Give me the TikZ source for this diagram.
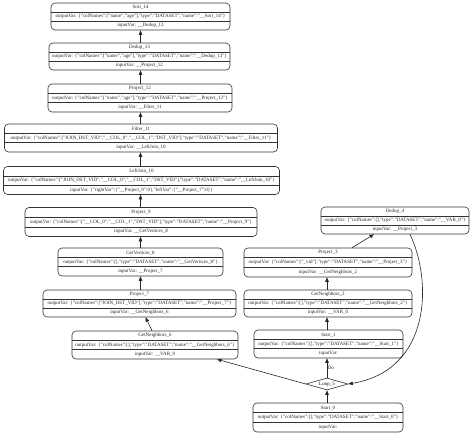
\documentclass[tikz,border=0pt]{standalone}
\usepackage{fontspec}
\setmainfont{Liberation Serif}
\usetikzlibrary{shapes.geometric,arrows.meta}
\tikzset{
  recshape/.style={draw=black!80, line width=0.6pt, rounded corners=4pt, inner sep=0pt},
  recline/.style={draw=black!80, line width=0.6pt},
  rectext/.style={inner sep=0pt, font=\fontsize{5}{6}\selectfont, text=black!85},
  edge/.style={draw=black!85, line width=0.6pt, -{Triangle[length=4.5pt,width=3.5pt]}},
  loopshape/.style={diamond, draw=black!80, line width=0.6pt, minimum width=42pt, minimum height=12pt, inner sep=0pt, aspect=3.5, font=\fontsize{5}{6}\selectfont}
}
\newcommand\recbox[8]{%
  \node[recshape, minimum width=#4pt, minimum height=#5pt] (#1) at (#2,#3) {};
  \draw[recline] ([yshift=#5pt/6]#1.west) -- ([yshift=#5pt/6]#1.east);
  \draw[recline] ([yshift=-#5pt/6]#1.west) -- ([yshift=-#5pt/6]#1.east);
  \node[rectext] (#1-t) at ([yshift=#5pt/3]#1.center) {#6};
  \node[rectext] (#1-o) at (#1.center) {#7};
  \node[rectext] (#1-i) at ([yshift=-#5pt/3]#1.center) {#8};
}
\begin{document}
\begin{tikzpicture}[x=1pt,y=-1pt]
\useasboundingbox (0,0) rectangle (474,434);
\recbox{Sort14}{140.5}{16.5}{179}{27}{Sort\_14}{outputVar: \{"colNames":["name","age"],"type":"DATASET","name":"\_\_Sort\_14"\}}{inputVar: \_\_Dedup\_13}
\recbox{Dedup13}{139.5}{56.5}{181}{27}{Dedup\_13}{outputVar: \{"colNames":["name","age"],"type":"DATASET","name":"\_\_Dedup\_13"\}}{inputVar: \_\_Project\_12}
\recbox{Project12}{140}{98}{184}{28}{Project\_12}{outputVar: \{"colNames":["name","age"],"type":"DATASET","name":"\_\_Project\_12"\}}{inputVar: \_\_Filter\_11}
\recbox{Filter11}{141}{138}{273}{28}{Filter\_11}{outputVar: \{"colNames":["JOIN\_DST\_VID","\_\_COL\_0","\_\_COL\_1","DST\_VID"],"type":"DATASET","name":"\_\_Filter\_11"\}}{inputVar: \_\_LeftJoin\_10}
\recbox{LeftJoin10}{141.5}{180.5}{276}{28}{LeftJoin\_10}{outputVar: \{"colNames":["JOIN\_DST\_VID","\_\_COL\_0","\_\_COL\_1","DST\_VID"],"type":"DATASET","name":"\_\_LeftJoin\_10"\}}{inputVar: \{"rightVar":\{"\_\_Project\_9":0\},"leftVar":\{"\_\_Project\_7":0\}\}}
\recbox{Project9}{141}{222}{232}{29}{Project\_9}{outputVar: \{"colNames":["\_\_COL\_0","\_\_COL\_1","DST\_VID"],"type":"DATASET","name":"\_\_Project\_9"\}}{inputVar: \_\_GetVertices\_8}
\recbox{GetVertices8}{140.5}{262}{165}{28}{GetVertices\_8}{outputVar: \{"colNames":[],"type":"DATASET","name":"\_\_GetVertices\_8"\}}{inputVar: \_\_Project\_7}
\recbox{Project7}{139.5}{303.5}{193}{27}{Project\_7}{outputVar: \{"colNames":["JOIN\_DST\_VID"],"type":"DATASET","name":"\_\_Project\_7"\}}{inputVar: \_\_GetNeighbors\_6}
\recbox{GetNeighbors6}{155}{345}{166}{28}{GetNeighbors\_6}{outputVar: \{"colNames":[],"type":"DATASET","name":"\_\_GetNeighbors\_6"\}}{inputVar: \_\_VAR\_0}
\recbox{Dedup4}{395}{220.5}{148}{27}{Dedup\_4}{outputVar: \{"colNames":[],"type":"DATASET","name":"\_\_VAR\_0"\}}{inputVar: \_\_Project\_3}
\recbox{Project3}{328}{262.5}{168}{29}{Project\_3}{outputVar: \{"colNames":["\_vid"],"type":"DATASET","name":"\_\_Project\_3"\}}{inputVar: \_\_GetNeighbors\_2}
\recbox{GetNeighbors2}{328}{303.5}{168}{27}{GetNeighbors\_2}{outputVar: \{"colNames":[],"type":"DATASET","name":"\_\_GetNeighbors\_2"\}}{inputVar: \_\_VAR\_0}
\recbox{Start1}{328.5}{344}{149}{28}{Start\_1}{outputVar: \{"colNames":[],"type":"DATASET","name":"\_\_Start\_1"\}}{inputVar: }
\recbox{Start0}{328}{417.5}{150}{29}{Start\_0}{outputVar: \{"colNames":[],"type":"DATASET","name":"\_\_Start\_0"\}}{inputVar: }
\node[loopshape] (Loop5) at (327,384) {Loop\_5};
% edges
\draw[edge] (Dedup13.north -| 140.5,0) -- (Sort14.south -| 140.5,0);
\draw[edge] (Project12.north -| 140.5,0) -- (Dedup13.south -| 140.5,0);
\draw[edge] (Filter11.north -| 140.5,0) -- (Project12.south -| 140.5,0);
\draw[edge] (LeftJoin10.north -| 140.5,0) -- (Filter11.south -| 140.5,0);
\draw[edge] (Project9.north -| 140.5,0) -- (LeftJoin10.south -| 140.5,0);
\draw[edge] (GetVertices8.north -| 140.5,0) -- (Project9.south -| 140.5,0);
\draw[edge] (Project7.north -| 140.5,0) -- (GetVertices8.south -| 140.5,0);
\draw[edge] ([xshift=-3pt]GetNeighbors6.north) -- ([xshift=6pt]Project7.south);
\draw[edge] (Loop5.west) -- ([xshift=62pt]GetNeighbors6.south);
\draw[edge] (Start0.north -| Loop5.south) -- (Loop5.south);
\draw[edge] (Loop5.north) -- node[rectext, right, xshift=0.5pt] (Do) {Do} (Start1.south -| Loop5.north);
\draw[edge] (Start1.north -| Loop5.north) -- (GetNeighbors2.south -| Loop5.north);
\draw[edge] (GetNeighbors2.north -| Loop5.north) -- (Project3.south -| Loop5.north);
\draw[edge] ([xshift=24pt]Project3.north) -- ([xshift=-21pt]Dedup4.south);
\draw[edge] ([xshift=15pt]Dedup4.south) .. controls (432,280) and (432,370) .. (Loop5.east);
\end{tikzpicture}
\end{document}
